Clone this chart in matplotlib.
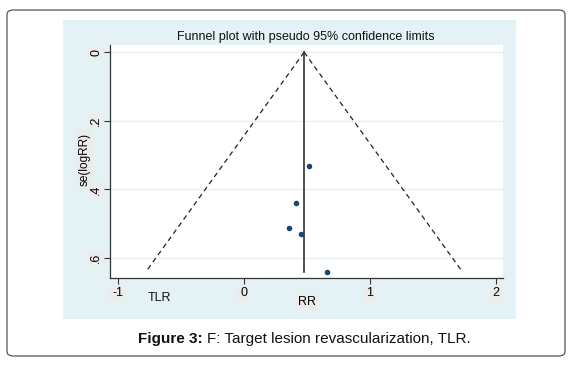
import matplotlib
matplotlib.use("Agg")
import matplotlib.pyplot as plt
from matplotlib.patches import FancyBboxPatch, Rectangle
import numpy as np

plt.rcParams['font.family'] = ['Liberation Sans', 'DejaVu Sans']

# Data
log_rr = [0.514, 0.411, 0.358, 0.458, 0.664]
se_log_rr = [0.331, 0.440, 0.512, 0.531, 0.641]
pooled = 0.479
x_ticks = [-1, 0, 1, 2]
x_tick_labels = ["-1", "0", "1", "2"]
y_ticks = [0, 0.2, 0.4, 0.6]
y_tick_labels = ["0", ".2", ".4", ".6"]
title = "Funnel plot with pseudo 95% confidence limits"
note = "TLR"

W, H = 569, 367
fig = plt.figure(figsize=(W / 100, H / 100), dpi=100)
fig.patch.set_facecolor("white")

# outer rounded border
border = FancyBboxPatch((7 / W, 1 - 356 / H), (565 - 7) / W, (356 - 10) / H,
                        boxstyle="round,pad=0,rounding_size=0.012",
                        transform=fig.transFigure, facecolor="white",
                        edgecolor="#555555", linewidth=0.9, zorder=-3)
fig.patches.append(border)
# light blue graph region
panel = Rectangle((63 / W, 1 - 319 / H), (516 - 63) / W, (319 - 20) / H,
                  transform=fig.transFigure, facecolor="#e4f2f5", edgecolor="none",
                  zorder=-2)
fig.patches.append(panel)

ax_l, ax_r, ax_t, ax_b = 110.0, 502.7, 45.0, 278.3
ax = fig.add_axes([ax_l / W, 1 - ax_b / H, (ax_r - ax_l) / W, (ax_b - ax_t) / H])
ax.set_zorder(1)
ax.set_facecolor("white")

smax = max(se_log_rr)
se_line = np.array([0.0, smax])
ax.plot(pooled - 1.96 * se_line, se_line, linestyle=(0, (4, 3)), color="#222222", linewidth=0.9)
ax.plot(pooled + 1.96 * se_line, se_line, linestyle=(0, (4, 3)), color="#222222", linewidth=0.9)
ax.plot([pooled, pooled], [0, smax], color="#333333", linewidth=1.2)
ax.scatter(log_rr, se_log_rr, s=16, color="#1a476f", zorder=3, linewidths=0)

ax.set_xlim(-1.06, 2.053)
ax.set_ylim(0.659, -0.021)

ax.set_xticks(x_ticks)
ax.set_xticklabels(x_tick_labels)
ax.set_yticks(y_ticks)
ax.set_yticklabels(y_tick_labels, rotation=90, va="center")
ax.grid(axis="y", color="#eaeef2", linewidth=1.0)
ax.set_axisbelow(True)

for side in ["top", "right"]:
    ax.spines[side].set_visible(False)
for side in ["left", "bottom"]:
    ax.spines[side].set_color("#333333")
    ax.spines[side].set_linewidth(0.9)
ax.tick_params(axis="both", labelsize=9, color="#333333", length=4, width=0.8)
ax.tick_params(axis="y", pad=1.5)
ax.tick_params(axis="x", pad=2.0)
for lab in ax.get_xticklabels() + ax.get_yticklabels():
    lab.set_bbox(dict(facecolor="#ececec", edgecolor="none", pad=1.5))

ax.set_xlabel("RR", fontsize=9,
              bbox=dict(facecolor="#ececec", edgecolor="none", pad=1.5))
ax.set_ylabel("se(logRR)", fontsize=8.5,
              bbox=dict(facecolor="#ececec", edgecolor="none", pad=1.5))
ax.xaxis.label.set_va("center")
ax.yaxis.label.set_va("center")
ax.xaxis.set_label_coords((306.7 - ax_l) / (ax_r - ax_l), (ax_b - 301.7) / (ax_b - ax_t))
ax.yaxis.set_label_coords((85 - ax_l) / (ax_r - ax_l), (ax_b - 159) / (ax_b - ax_t))

fig.text(306 / W, 1 - 37 / H, title, ha="center", va="center", fontsize=9, color="#111111")
fig.text(159 / W, 1 - 298 / H, note, ha="center", va="center", fontsize=9, color="#111111")

# caption
cap_y = 1 - 339 / H
t1 = fig.text(138 / W, cap_y, "Figure 3:", ha="left", va="center", fontsize=11,
              fontweight="bold", color="#111111")
fig.canvas.draw()
bb = t1.get_window_extent()
fig.text(bb.x1 / W + 4 / W, cap_y, "F: Target lesion revascularization, TLR.",
         ha="left", va="center", fontsize=11, color="#111111")

fig.savefig("out.png", dpi=100)
